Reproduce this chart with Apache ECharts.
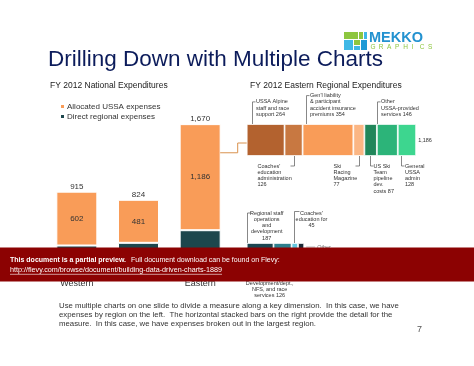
<!DOCTYPE html>
<html><head><meta charset="utf-8">
<script src="https://cdn.jsdelivr.net/npm/echarts@6/dist/echarts.min.js"></script>
<style>html,body{margin:0;padding:0;background:#fff}#c{width:474px;height:366px}</style>
</head><body><div id="c"></div>
<script>
// ---------- data ----------
const regions = ['Western', 'Rocky/Central', 'Eastern'];
const totals = [915, 824, 1670];
const allocated = [602, 481, 1186];
const direct = [313, 343, 484];

const easternAllocNames = ['USSA Alpine staff and race support', "Coaches' education administration", "Gen'l liability & participant accident insurance premiums", 'Ski Racing Magazine', 'US Ski Team pipeline dev. costs', 'Other USSA-provided services', 'General USSA admin'];
const easternAllocValues = [264, 126, 354, 77, 87, 146, 128];
const easternAllocTotalLabel = '1,186';
const easternAllocLabels = ['USSA Alpine\nstaff and race\nsupport 264', "Coaches'\neducation\nadministration\n126", "Gen'l liability\n& participant\naccident insurance\npremiums 354", 'Ski\nRacing\nMagazine\n77', 'US Ski\nTeam\npipeline\ndev.\ncosts 87', 'Other\nUSSA-provided\nservices 146', 'General\nUSSA\nadmin\n128'];

const easternDirectNames = ['Regional staff operations and development', 'Development/dept., NFS, and race services', "Coaches' education for", 'Other'];
const easternDirectValues = [187, 126, 45, 43];
const easternDirectLabels = ['Regional staff\noperations\nand\ndevelopment\n187', 'Development/dept.,\nNFS, and race\nservices 126', "Coaches'\neducation for\n45", 'Other'];

// ---------- styles ----------
const FONT = '"Liberation Sans", Arial, sans-serif';
const ORANGE = '#f99c58', DARK = '#1d474d';
const allocColors = ['#b3622f', '#c87841', '#f99c58', '#fbb684', '#20865a', '#2cb479', '#3dd68f'];
const directColors = ['#1b4652', '#2d7f8d', '#62c7df', '#1c2a37'];
// annotation layout: side, anchor fraction in segment, text dx from leader, tick direction
const allocLayout = [
  {side: 'top', frac: 0.13, dx: 3.5, tick: 3},
  {side: 'bottom', frac: 0.55, dx: -37, tick: -4},
  {side: 'top', frac: 0.06, dx: 3.5, tick: 3},
  {side: 'bottom', frac: 0.55, dx: -26, tick: -4},
  {side: 'bottom', frac: 0.47, dx: 3, tick: 3},
  {side: 'top', frac: 0.02, dx: 3.5, tick: 3},
  {side: 'bottom', frac: 0.15, dx: 3.5, tick: 3}
];
const fmt = v => Number(v).toLocaleString('en-US');

const chart = echarts.init(document.getElementById('c'));

const series = [
  {name: 'Direct regional expenses', type: 'bar', stack: 'nat', xAxisIndex: 0, yAxisIndex: 0, data: direct, barWidth: 41, barGap: '-100%',
   itemStyle: {color: DARK, borderColor: '#fff', borderWidth: 1}, silent: true},
  {name: 'Allocated USSA expenses', type: 'bar', stack: 'nat', xAxisIndex: 0, yAxisIndex: 0, data: allocated, barWidth: 41, barGap: '-100%',
   itemStyle: {color: ORANGE, borderColor: '#fff', borderWidth: 1}, silent: true,
   label: {show: true, position: 'inside', fontSize: 8, color: '#333', fontFamily: FONT, formatter: p => fmt(p.value)}},
  {name: 'Total', type: 'bar', xAxisIndex: 0, yAxisIndex: 0, data: totals, barWidth: 41, barGap: '-100%', z: 1, silent: true,
   itemStyle: {color: 'rgba(0,0,0,0)'},
   label: {show: true, position: 'top', distance: 1, fontSize: 8, color: '#333', fontFamily: FONT, formatter: p => fmt(p.value)}}
];
easternAllocValues.forEach((v, i) => {
  const s = {name: easternAllocNames[i], type: 'bar', stack: 'east', xAxisIndex: 1, yAxisIndex: 1, data: [v, '-'], barWidth: 32, silent: true,
    itemStyle: {color: allocColors[i], borderColor: '#fff', borderWidth: 0.8}};
  if (i === easternAllocValues.length - 1) {
    s.label = {show: true, position: 'right', distance: 2, fontSize: 5.5, color: '#333', fontFamily: FONT, formatter: () => easternAllocTotalLabel};
  }
  series.push(s);
});
easternDirectValues.forEach((v, i) => {
  series.push({name: easternDirectNames[i], type: 'bar', stack: 'east', xAxisIndex: 1, yAxisIndex: 1, data: ['-', v], barWidth: 32, silent: true,
    itemStyle: {color: directColors[i], borderColor: '#fff', borderWidth: 0.8}});
});

chart.setOption({
  animation: false,
  backgroundColor: '#fff',
  textStyle: {fontFamily: FONT},
  grid: [
    {left: 46, width: 185, bottom: 92.5, height: 161},
    {left: 246.7, width: 170, top: 80.5, height: 238}
  ],
  xAxis: [
    {type: 'category', gridIndex: 0, data: regions, axisLine: {show: false}, axisTick: {show: false},
     axisLabel: {fontSize: 9, color: '#333', margin: 6, fontFamily: FONT}},
    {type: 'value', gridIndex: 1, min: 0, max: 1186, show: false}
  ],
  yAxis: [
    {type: 'value', gridIndex: 0, min: 0, max: 1800, show: false},
    {type: 'category', gridIndex: 1, data: ['Allocated', 'Direct'], inverse: true, show: false}
  ],
  legend: {data: ['Allocated USSA expenses', 'Direct regional expenses'], orient: 'vertical', left: 59, top: 102.5, padding: 0,
    itemWidth: 5, itemHeight: 5, itemGap: 2, icon: 'rect', selectedMode: false,
    textStyle: {fontSize: 8, color: '#333', fontFamily: FONT, padding: [0, 0, 0, -3]}},
  title: [
    {text: 'Drilling Down with Multiple Charts', left: 48, top: 48.5, padding: 0, textStyle: {fontSize: 22.5, fontWeight: 'normal', color: '#0c1c5b', fontFamily: FONT}},
    {text: 'FY 2012 National Expenditures', left: 50, top: 81.5, padding: 0, textStyle: {fontSize: 8.5, fontWeight: 'normal', color: '#222', fontFamily: FONT}},
    {text: 'FY 2012 Eastern Regional Expenditures', left: 250, top: 81.5, padding: 0, textStyle: {fontSize: 8.5, fontWeight: 'normal', color: '#222', fontFamily: FONT}}
  ],
  series: series
});

// ---------- annotations positioned through the axes ----------
const g = [];
const LC = '#555';
function T(x, y, text, style, z) {
  g.push({type: 'text', x: x, y: y, silent: true, z: z || 50,
    style: Object.assign({text: text, fill: '#333', fontSize: 5.5, fontFamily: FONT, lineHeight: 6.3,
      align: 'left', textAlign: 'left', verticalAlign: 'top', textVerticalAlign: 'top'}, style || {})});
}
function L(points, color, w, z) {
  g.push({type: 'polyline', silent: true, z: z || 50, shape: {points: points}, style: {stroke: color || LC, lineWidth: w || 0.7, fill: null}});
}
const px = v => chart.convertToPixel({xAxisIndex: 1}, v);
const rowY = i => chart.convertToPixel({yAxisIndex: 1}, i);
const half = 16;
// allocated row labels
let cum = 0;
const y0 = rowY(0);
easternAllocValues.forEach((v, i) => {
  const lay = allocLayout[i];
  const lx = Math.round(px(cum + v * lay.frac)) + 0.5;
  const nLines = easternAllocLabels[i].split('\n').length;
  if (lay.side === 'top') {
    const bottomLine = y0 - half - 9.5;
    const firstLine = bottomLine - (nLines - 1) * 6.3;
    L([[lx + lay.tick, firstLine], [lx, firstLine], [lx, y0 - half]]);
    T(lx + lay.dx, firstLine - 3.15, easternAllocLabels[i]);
  } else {
    const firstLine = y0 + half + 10;
    L([[lx, y0 + half], [lx, firstLine], [lx + lay.tick, firstLine]]);
    T(lx + lay.dx, firstLine - 3.15, easternAllocLabels[i]);
  }
  cum += v;
});
// direct row labels
const y1 = rowY(1);
const dStart = [0];
easternDirectValues.forEach((v, i) => dStart.push(dStart[i] + v));
{
  const lx = Math.round(px(0)) + 0.5;
  const fl = y1 - half - 30;
  L([[lx + 4, fl], [lx, fl], [lx, y1 - half]]);
  T(px(dStart[0]) + 20, fl - 3.15, easternDirectLabels[0], {align: 'center', textAlign: 'center'});
  const lx2 = Math.round(px(dStart[2] + easternDirectValues[2] * 0.35)) + 0.5;
  const fl2 = y1 - half - 31.5;
  L([[lx2, y1 - half], [lx2, fl2], [lx2 + 5, fl2]]);
  T(lx2 + 17, fl - 3.15, easternDirectLabels[2], {align: 'center', textAlign: 'center'});
  const ex = px(dStart[4]);
  L([[ex + 2, y1 - half + 4], [ex + 11, y1 - half + 4]], '#999');
  T(ex + 13, y1 - half + 4 - 3.15, easternDirectLabels[3], {fill: '#777'});
  T(px(dStart[0]) + 23, y1 + half + 5, easternDirectLabels[1], {align: 'center', textAlign: 'center'});
}
// connector from Eastern bar to the detail bar
{
  const bx = chart.convertToPixel({xAxisIndex: 0}, 2) + 20;
  const by = chart.convertToPixel({yAxisIndex: 0}, direct[2] + allocated[2] * 0.73);
  const ex = px(0);
  const ey = y0 + 3;
  L([[bx, by], [ex - 9, by], [ex - 9, ey], [ex, ey]], '#d9924e', 1);
}
// body text
const body = ['Use multiple charts on one slide to divide a measure along a key dimension.  In this case, we have',
  'expenses by region on the left.  The horizontal stacked bars on the right provide the detail for the',
  'measure.  In this case, we have expenses broken out in the largest region.'];
T(59, 301.4, body.join('\n'), {fontSize: 7.8, lineHeight: 8.8, fill: '#333'});
T(417, 326.5, '7', {fontSize: 9, fill: '#555'});
// logo
[[344, 32, 14, 7, '#8dc63f'], [359, 32, 4, 7, '#8dc63f'], [364, 32, 3, 7, '#3fb8e6'], [344, 40, 9, 10, '#3fb8e6'],
 [354, 40, 6, 5, '#8dc63f'], [354, 46, 6, 4, '#3fb8e6'], [361, 40, 6, 10, '#1f9ad6']].forEach(r => {
  g.push({type: 'rect', silent: true, z: 50, shape: {x: r[0], y: r[1], width: r[2], height: r[3]}, style: {fill: r[4]}});
});
T(369, 30.5, 'MEKKO', {fontSize: 14.5, fontWeight: 'bold', fill: '#2392d0', lineHeight: 14});
'GRAPHICS'.split('').forEach((ch, i) => T(370.5 + i * 8.2, 43.5, ch, {fontSize: 6.5, fill: '#8dc63f', lineHeight: 7}));
// preview banner
g.push({type: 'rect', silent: true, z: 100, shape: {x: 0, y: 247.5, width: 474, height: 34}, style: {fill: '#8c0202'}});
const boldTxt = 'This document is a partial preview.';
const cv = document.createElement('canvas').getContext('2d');
cv.font = 'bold 7px ' + FONT;
const bw = cv.measureText(boldTxt).width;
T(10, 255.5, boldTxt, {fontSize: 7, fontWeight: 'bold', fill: '#fff', lineHeight: 9}, 101);
T(10 + bw + 5, 255.5, 'Full document download can be found on Flevy:', {fontSize: 7, fill: '#fff', lineHeight: 9}, 101);
const link = 'http://flevy.com/browse/document/building-data-driven-charts-1889';
cv.font = '7.2px ' + FONT;
const lw = cv.measureText(link).width;
T(10, 265.5, link, {fontSize: 7.2, fill: '#fff', lineHeight: 9}, 101);
g.push({type: 'line', silent: true, z: 101, shape: {x1: 10, y1: 274.3, x2: 10 + lw, y2: 274.3}, style: {stroke: '#fff', lineWidth: 0.6}});

chart.setOption({graphic: {elements: g}});
</script></body></html>
